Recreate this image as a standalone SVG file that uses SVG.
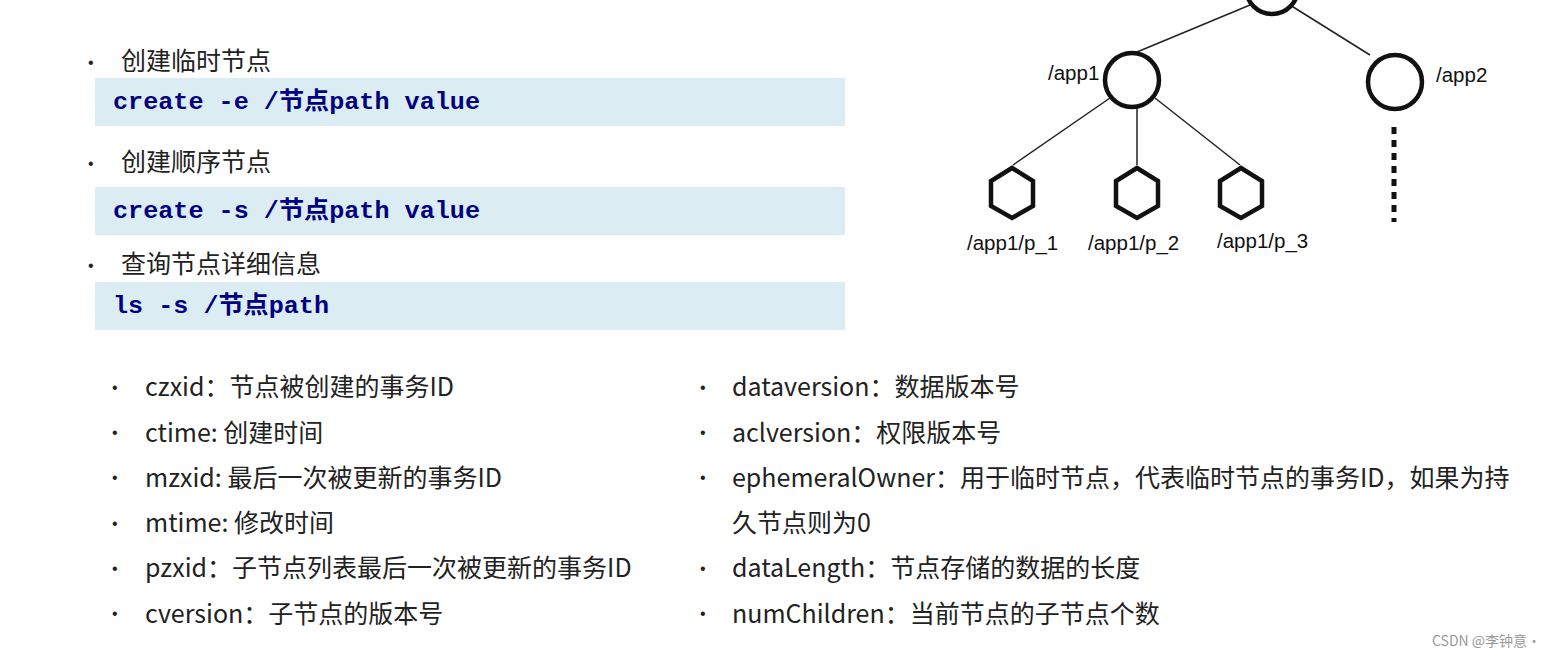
<svg xmlns="http://www.w3.org/2000/svg" width="1558" height="658" viewBox="0 0 1558 658">
<style>
.b{font-family:"Noto Sans CJK SC","Noto Sans",sans-serif;font-size:25px;fill:#222}
.h{font-family:"Noto Sans CJK SC",sans-serif;font-size:25px;fill:#222}
.code{font-family:"Liberation Mono","Noto Sans CJK SC",monospace;font-weight:bold;font-size:24px;fill:#000080}
.box{fill:#dbedf3}
.lab{font-family:"Liberation Sans",Arial,sans-serif;font-size:20.5px;fill:#111}
.n{fill:#fff;stroke:#111;stroke-width:4.5}
.e{stroke:#222;stroke-width:1.5}
.dot{font-family:"Liberation Sans",sans-serif;font-size:16px;fill:#222}
</style>
<rect width="1558" height="658" fill="#fff"/>
<g id="cmds">
<text class="dot" x="88" y="68">•</text><text class="h" x="121" y="70">创建临时节点</text>
<rect class="box" x="95" y="78" width="750" height="48"/>
<text class="code" x="113" y="109" textLength="367" lengthAdjust="spacingAndGlyphs">create -e /节点path value</text>
<text class="dot" x="88" y="169">•</text><text class="h" x="121" y="171">创建顺序节点</text>
<rect class="box" x="95" y="187" width="750" height="48"/>
<text class="code" x="113" y="218" textLength="367" lengthAdjust="spacingAndGlyphs">create -s /节点path value</text>
<text class="dot" x="88" y="271">•</text><text class="h" x="121" y="273">查询节点详细信息</text>
<rect class="box" x="95" y="282" width="750" height="48"/>
<text class="code" x="113" y="313" textLength="216" lengthAdjust="spacingAndGlyphs">ls -s /节点path</text>
</g>
<g id="connectors">
<line class="e" x1="1250" y1="5" x2="1137" y2="52"/>
<line class="e" x1="1290" y1="5" x2="1370" y2="55"/>
<line class="e" x1="1110" y1="98" x2="1013" y2="165"/>
<line class="e" x1="1137" y1="106" x2="1137" y2="165"/>
<line class="e" x1="1155" y1="98" x2="1240" y2="165"/>
<line x1="1394" y1="127" x2="1394" y2="222" stroke="#111" stroke-width="5" stroke-dasharray="7,6"/>
</g>
<g id="root"><circle class="n" cx="1272" cy="-12" r="26"/></g>
<g id="app1"><circle class="n" cx="1132" cy="80" r="27"/><text class="lab" x="1048" y="80">/app1</text></g>
<g id="app2"><circle class="n" cx="1395" cy="82" r="27"/><text class="lab" x="1436" y="82">/app2</text></g>
<g id="p1"><polygon class="n" points="1012,168 1033,181 1033,206 1012,218 991,206 991,181"/><text class="lab" x="967" y="250">/app1/p_1</text></g>
<g id="p2"><polygon class="n" points="1137,168 1158,181 1158,206 1137,218 1116,206 1116,181"/><text class="lab" x="1088" y="250">/app1/p_2</text></g>
<g id="p3"><polygon class="n" points="1241,168 1262,181 1262,206 1241,218 1220,206 1220,181"/><text class="lab" x="1217" y="248">/app1/p_3</text></g>
<g id="fields">
<text class="dot" x="112" y="393">•</text><text class="b" x="145" y="396">czxid：节点被创建的事务ID</text>
<text class="dot" x="112" y="438">•</text><text class="b" x="145" y="442">ctime: 创建时间</text>
<text class="dot" x="112" y="483">•</text><text class="b" x="145" y="487">mzxid: 最后一次被更新的事务ID</text>
<text class="dot" x="112" y="529">•</text><text class="b" x="145" y="532">mtime: 修改时间</text>
<text class="dot" x="112" y="574">•</text><text class="b" x="145" y="577">pzxid：子节点列表最后一次被更新的事务ID</text>
<text class="dot" x="112" y="619">•</text><text class="b" x="145" y="623">cversion：子节点的版本号</text>
<text class="dot" x="700" y="393">•</text><text class="b" x="732" y="396">dataversion：数据版本号</text>
<text class="dot" x="700" y="438">•</text><text class="b" x="732" y="442">aclversion：权限版本号</text>
<text class="dot" x="700" y="483">•</text><text class="b" x="732" y="487">ephemeralOwner：用于临时节点，代表临时节点的事务ID，如果为持</text>
<text class="b" x="732" y="532">久节点则为0</text>
<text class="dot" x="700" y="574">•</text><text class="b" x="732" y="577">dataLength：节点存储的数据的长度</text>
<text class="dot" x="700" y="619">•</text><text class="b" x="732" y="623">numChildren：当前节点的子节点个数</text>
</g>
<text x="1432" y="646" font-family="Noto Sans CJK SC,sans-serif" font-size="14" fill="#999">CSDN @李钟意·</text>
</svg>
